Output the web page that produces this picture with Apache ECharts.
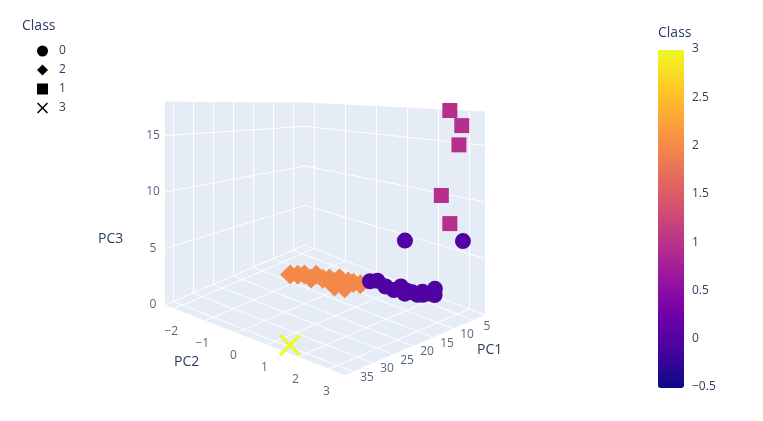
<!DOCTYPE html><html><head><meta charset="utf-8">
<script src="https://cdn.jsdelivr.net/npm/echarts@6/dist/echarts.min.js"></script>
<style>html,body{margin:0;padding:0;background:#fff}#c{width:763px;height:421px}</style></head><body><div id="c"></div>
<script>
// data: [PC1, PC2, PC3]
var class0 = [[10.2,0.85,1.5],[9.5,1.0,1.6],[9.0,1.2,1.2],[8.0,1.69,0.9],[7.5,1.5,1.3],[7.0,1.8,1.0],[6.5,1.9,0.8],[6.0,2.0,1.1],[5.5,1.95,0.7],[5.0,2.1,0.9],[4.5,2.2,0.8],[3.2,2.04,1.0],[8.9,1.81,6.0],[2.0,2.79,6.0],[8.5,1.4,1.0],[6.8,1.6,0.9]];
var class1 = [[5.9,2.87,8.0],[7.1,2.75,10.5],[5.1,3.06,15.0],[4.7,3.1,16.7],[5.9,2.87,18.0]];
var class2 = [[17.5,-0.78,1.5],[17.0,-0.6,1.6],[16.5,-0.45,1.7],[16.0,-0.3,1.4],[15.5,-0.2,1.8],[15.0,-0.05,1.5],[14.5,0.1,1.6],[14.0,0.2,1.3],[13.5,0.3,1.7],[13.0,0.35,1.2],[12.5,0.45,1.4],[12.0,0.55,1.3],[11.3,0.68,1.2],[14.8,0.3,1.1],[13.8,0.5,1.0]];
var class3 = [[34.4,1.39,0.0]];
var pc1Ticks = [5,10,15,20,25,30,35];
var pc2Ticks = [-2,-1,0,1,2,3];
var pc3Ticks = [0,5,10,15];
var cbTicks = [3,2.5,2,1.5,1,0.5,0,-0.5];
var cbColors = ['#0d0887','#46039f','#7201a8','#9c179e','#bd3786','#d8576b','#ed7953','#fb9f3a','#fdca26','#f0f921'];

var P1 = [2,37], P2 = [-2.3,3.5], Z = [0,18];
function P(pc1,pc2,z){
  var u=(pc2-P2[0])/(P2[1]-P2[0]), v=(P1[1]-pc1)/(P1[1]-P1[0]);
  var s=11.3*(1-0.3*(v-u));
  return [165+180*u+140*v, 305+70*u-60*v-s*z];
}
var lines=[];
function seg(a,b){lines.push([P.apply(null,a),P.apply(null,b)]);}
pc2Ticks.forEach(function(t){seg([P1[1],t,0],[P1[0],t,0]);seg([P1[0],t,0],[P1[0],t,Z[1]]);});
pc1Ticks.forEach(function(t){seg([t,P2[0],0],[t,P2[1],0]);seg([t,P2[0],0],[t,P2[0],Z[1]]);});
pc3Ticks.forEach(function(t){seg([P1[1],P2[0],t],[P1[0],P2[0],t]);seg([P1[0],P2[0],t],[P1[0],P2[1],t]);});
var planes=[
 [[P1[1],P2[0],0],[P1[1],P2[1],0],[P1[0],P2[1],0],[P1[0],P2[0],0]],
 [[P1[0],P2[0],0],[P1[0],P2[1],0],[P1[0],P2[1],Z[1]],[P1[0],P2[0],Z[1]]],
 [[P1[1],P2[0],0],[P1[0],P2[0],0],[P1[0],P2[0],Z[1]],[P1[1],P2[0],Z[1]]]
].map(function(pl){return pl.map(function(p){return P.apply(null,p);});});
function proj(arr){return arr.map(function(d){return P(d[0],d[1],d[2]);});}
var labels=[];
pc3Ticks.forEach(function(t){var p=P(P1[1],P2[0],t);labels.push({value:[p[0]-12,p[1]],t:String(t)});});
pc2Ticks.forEach(function(t){var p=P(P1[1],t,0);labels.push({value:[p[0]-3,p[1]+23],t:t<0?'\u2212'+(-t):String(t)});});
pc1Ticks.forEach(function(t){var p=P(t,P2[1],0);labels.push({value:[p[0]+14,p[1]+6],t:String(t)});});
var xPath='path://M2,0 L10,8 L18,0 L20,2 L12,10 L20,18 L18,20 L10,12 L2,20 L0,18 L8,10 L0,2 Z';
var chart=echarts.init(document.getElementById('c'));
var txt={fontSize:14,fill:'#2a3f5f',fontFamily:'Open Sans'};
chart.setOption({
 animation:false,
 textStyle:{fontFamily:'Open Sans, sans-serif'},
 grid:{left:0,right:0,top:0,bottom:0},
 xAxis:{type:'value',min:0,max:763,show:false},
 yAxis:{type:'value',min:0,max:421,inverse:true,show:false},
 legend:{left:32,top:40,orient:'vertical',itemGap:7,itemWidth:11,itemHeight:11,
   textStyle:{color:'#2a3f5f',fontSize:12,padding:[0,0,0,6]},
   data:[{name:'0',icon:'circle',itemStyle:{color:'#000',opacity:1}},{name:'2',icon:'diamond',itemStyle:{color:'#000',opacity:1}},{name:'1',icon:'rect',itemStyle:{color:'#000',opacity:1}},{name:'3',icon:xPath,itemStyle:{color:'#000',opacity:1}}]},
 visualMap:{type:'continuous',min:-0.5,max:3,seriesIndex:[8],left:643,top:35,itemWidth:26,itemHeight:338,
   calculable:false,text:null,show:true,showLabel:false,inRange:{color:cbColors}},
 graphic:[
  {type:'text',z:100,left:658,top:26,style:Object.assign({text:'Class'},txt)},
  {type:'text',left:22,top:19,style:Object.assign({text:'Class'},txt)},
  {type:'text',left:98,top:232,style:Object.assign({text:'PC3'},txt)},
  {type:'text',left:174,top:355,style:Object.assign({text:'PC2'},txt)},
  {type:'text',left:477,top:343,style:Object.assign({text:'PC1'},txt)}
 ].concat(cbTicks.map(function(v){
   var y=50+(3-v)/3.5*338;
   return {type:'text',z:100,left:692,top:y-7,style:{text:v<0?'\u2212'+(-v):String(v),fontSize:12,fill:'#2a3f5f',fontFamily:'Open Sans'}};
 })),
 series:[
  {type:'custom',silent:true,z:1,data:planes.map(function(p,i){return i;}),renderItem:function(params,api){
     var pts=planes[params.dataIndex].map(function(p){return api.coord(p);});
     return {type:'polygon',shape:{points:pts},style:{fill:'#e5ecf6'}};}},
  {type:'lines',coordinateSystem:'cartesian2d',silent:true,z:2,data:lines.map(function(l){return {coords:l};}),lineStyle:{color:'#fff',width:1,opacity:1}},
  {type:'scatter',silent:true,z:3,symbolSize:0,data:labels.map(function(l){return {value:l.value,label:{show:true,formatter:l.t,position:'inside',color:'#2a3f5f',fontSize:12}};})},
  {name:'2',type:'scatter',z:5,symbol:'diamond',symbolSize:20,itemStyle:{color:'#f48849',opacity:1},data:proj(class2)},
  {name:'0',type:'scatter',z:6,symbol:'circle',symbolSize:16,itemStyle:{color:'#5002a2',opacity:1},data:proj(class0)},
  {name:'1',type:'scatter',z:6,symbol:'rect',symbolSize:15,itemStyle:{color:'#b52f8c',opacity:1},data:proj(class1)},
  {name:'3',type:'scatter',z:6,symbol:xPath,symbolSize:22,itemStyle:{color:'#f0f921',opacity:1},data:proj(class3)},
  {type:'scatter',silent:true,data:[]},
  {type:'scatter',silent:true,data:[]}
 ]
});
</script></body></html>
